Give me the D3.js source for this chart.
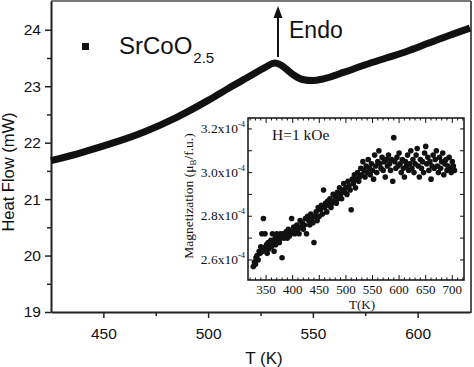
<!DOCTYPE html>
<html>
<head>
<meta charset="utf-8">
<script src="https://cdn.jsdelivr.net/npm/d3@7"></script>
<style>
body { margin: 0; background: #fff; }
svg { display: block; }
</style>
</head>
<body>
<div id="chart"></div>
<script>
// main DSC curve
const dscT = [425, 440, 455, 470, 485, 500, 510, 520, 527, 532, 535, 540, 545, 550, 555, 565, 575, 585, 595, 605, 615, 625];
const dscHeat = [21.68, 21.83, 22.0, 22.2, 22.45, 22.75, 22.97, 23.18, 23.33, 23.41, 23.37, 23.22, 23.12, 23.1, 23.13, 23.25, 23.38, 23.5, 23.62, 23.76, 23.9, 24.03];
const mainXTicks = [450, 500, 550, 600];
const mainYTicks = [19, 20, 21, 22, 23, 24];

// inset magnetization (units of 1e-4 muB/f.u.)
const magT = [326, 328, 330, 331, 333, 335, 337, 339, 340, 342, 343, 345, 346, 348, 349, 351, 352, 354, 355, 357,
  359, 360, 362, 363, 365, 367, 368, 370, 372, 373, 375, 377, 378, 380, 382, 384, 386, 388, 390, 392,
  394, 396, 398, 400, 402, 404, 406, 408, 410, 412, 414, 416, 418, 420, 422, 424, 426, 428, 430, 432,
  434, 436, 438, 440, 442, 444, 446, 448, 450, 452, 454, 456, 458, 460, 462, 464, 466, 468, 470, 472,
  474, 476, 478, 480, 482, 484, 486, 488, 490, 492, 494, 496, 498, 500, 502, 504, 506, 508, 510, 512,
  514, 516, 518, 520, 522, 524, 526, 528, 530, 532, 534, 536, 538, 540, 542, 544, 546, 548, 550, 552,
  554, 556, 558, 560, 562, 564, 566, 568, 570, 572, 574, 576, 578, 580, 582, 584, 586, 588, 590, 592,
  594, 596, 598, 600, 602, 604, 606, 608, 610, 612, 614, 616, 618, 620, 622, 624, 626, 628, 630, 632,
  634, 636, 638, 640, 642, 644, 646, 648, 650, 652, 654, 656, 658, 660, 662, 664, 666, 668, 670, 672,
  674, 676, 678, 680, 682, 684, 686, 688, 690, 692, 694, 696, 698, 700, 702, 704];
const magM = [2.57, 2.59, 2.58, 2.61, 2.62, 2.60, 2.64, 2.63, 2.66, 2.72, 2.64, 2.79, 2.65, 2.72, 2.66, 2.67, 2.63, 2.68, 2.65, 2.67,
  2.69, 2.66, 2.72, 2.68, 2.64, 2.70, 2.67, 2.72, 2.69, 2.71, 2.68, 2.72, 2.70, 2.61, 2.72, 2.70, 2.71, 2.73, 2.70, 2.74,
  2.71, 2.72, 2.79, 2.73, 2.75, 2.72, 2.74, 2.76, 2.74, 2.72, 2.78, 2.75, 2.77, 2.74, 2.76, 2.79, 2.72, 2.80, 2.78, 2.76,
  2.81, 2.79, 2.77, 2.68, 2.80, 2.82, 2.78, 2.84, 2.80, 2.83, 2.85, 2.81, 2.92, 2.84, 2.86, 2.82, 2.87, 2.85, 2.88, 2.84,
  2.86, 2.90, 2.87, 2.89, 2.86, 2.91, 2.88, 2.93, 2.90, 2.88, 2.92, 2.95, 2.91, 2.93, 2.90, 2.96, 2.94, 2.92, 2.83, 2.97,
  2.95, 2.99, 2.93, 2.97, 3.00, 2.96, 2.98, 3.02, 2.99, 3.05, 3.01, 2.98, 3.03, 3.00, 3.06, 3.02, 2.99, 3.04, 3.01, 2.97,
  3.08, 3.03, 3.00, 3.05, 3.10, 3.04, 3.02, 3.07, 3.01, 3.05, 2.98, 3.06, 3.03, 3.08, 3.04, 3.01, 3.06, 2.96, 3.16, 3.05,
  3.02, 3.07, 3.03, 3.09, 3.04, 3.00, 3.06, 3.02, 2.98, 3.05, 3.03, 3.08, 3.01, 3.04, 3.10, 3.02, 3.06, 3.00, 3.04, 3.08,
  3.11, 3.03, 2.98, 3.06, 3.02, 3.05, 3.00, 3.09, 3.12, 3.04, 3.07, 3.01, 3.05, 2.97, 3.03, 3.08, 3.02, 3.06, 3.10, 3.03,
  3.00, 3.07, 3.02, 3.05, 3.09, 2.99, 3.04, 3.06, 3.01, 3.03, 3.07, 3.02, 3.00, 3.05, 3.03, 3.01];
const insetXTicks = [350, 400, 450, 500, 550, 600, 650, 700];
const insetYTicks = [2.6, 2.8, 3.0, 3.2];

const W = 474, H = 367;
const svg = d3.select("#chart").append("svg").attr("width", W).attr("height", H);

const x = d3.scaleLinear().domain([425, 625]).range([51, 470]);
const y = d3.scaleLinear().domain([19, 24.51]).range([312, 1]);

// frame (top / right drawn lighter)
svg.append("line").attr("x1", 51).attr("x2", 471).attr("y1", 1).attr("y2", 1)
	.attr("stroke", "#777").attr("stroke-width", 2);
svg.append("line").attr("x1", 471).attr("x2", 471).attr("y1", 1).attr("y2", 313)
	.attr("stroke", "#555").attr("stroke-width", 2);

const mainFont = "'Liberation Sans', Arial, sans-serif";

const xAxis = svg.append("g").attr("transform", "translate(0,312)")
	.call(d3.axisBottom(x).tickValues(mainXTicks).tickSize(6).tickSizeOuter(0).tickPadding(5));
svg.append("g").attr("transform", "translate(0,312)")
	.call(d3.axisBottom(x).tickValues([475, 525, 575]).tickSize(4).tickFormat("").tickSizeOuter(0))
	.select(".domain").remove();
const yAxis = svg.append("g").attr("transform", "translate(51,0)")
	.call(d3.axisLeft(y).tickValues(mainYTicks).tickFormat(d3.format("d")).tickSize(6).tickSizeOuter(0).tickPadding(4));
svg.append("g").attr("transform", "translate(51,0)")
	.call(d3.axisLeft(y).tickValues([19.5, 20.5, 21.5, 22.5, 23.5]).tickSize(4).tickFormat("").tickSizeOuter(0))
	.select(".domain").remove();
svg.selectAll(".domain").attr("stroke", "#222").attr("stroke-width", 2);
svg.selectAll(".tick line").attr("stroke", "#222").attr("stroke-width", 1.5);
svg.selectAll(".tick text").attr("font-family", mainFont).attr("font-size", 15.5).attr("fill", "#111");
xAxis.selectAll(".tick text").attr("dy", "1em");

svg.append("text").attr("transform", "translate(14,172) rotate(-90)").attr("text-anchor", "middle")
	.attr("font-family", mainFont).attr("font-size", 16.5).attr("fill", "#111").text("Heat Flow (mW)");
svg.append("text").attr("x", 264).attr("y", 364).attr("text-anchor", "middle")
	.attr("font-family", mainFont).attr("font-size", 17).attr("fill", "#111").text("T (K)");

// DSC curve
const line = d3.line().x((d, i) => x(dscT[i])).y((d) => y(d)).curve(d3.curveMonotoneX);
svg.append("path").datum(dscHeat).attr("d", line).attr("fill", "none")
	.attr("stroke", "#111").attr("stroke-width", 7);

// legend
svg.append("rect").attr("x", 82).attr("y", 43).attr("width", 7).attr("height", 7).attr("fill", "#111");
const leg = svg.append("text").attr("x", 119).attr("y", 54).attr("font-family", mainFont)
	.attr("font-size", 24).attr("fill", "#111");
leg.append("tspan").text("SrCoO");
leg.append("tspan").attr("font-size", 15).attr("dy", 9).attr("dx", 1).text("2.5");

// Endo arrow
svg.append("line").attr("x1", 278).attr("x2", 278).attr("y1", 57).attr("y2", 16)
	.attr("stroke", "#111").attr("stroke-width", 2);
svg.append("path").attr("d", "M278,6 L273.5,18 L282.5,18 Z").attr("fill", "#111");
svg.append("text").attr("x", 289).attr("y", 38).attr("font-family", mainFont)
	.attr("font-size", 23).attr("fill", "#111").text("Endo");

// inset
const serif = "'Liberation Serif', 'Times New Roman', serif";
const ix = d3.scaleLinear().domain([316, 722]).range([248, 464]);
const iy = d3.scaleLinear().domain([2.508, 3.25]).range([280, 118]);
const inset = svg.append("g");
inset.append("rect").attr("x", 248).attr("y", 118).attr("width", 216).attr("height", 162)
	.attr("fill", "#fff").attr("stroke", "#111").attr("stroke-width", 1.5);

const minorX = d3.range(320, 721, 10);
inset.selectAll(".mxb").data(minorX).join("line")
	.attr("x1", (d) => ix(d)).attr("x2", (d) => ix(d))
	.attr("y1", 280).attr("y2", (d) => d % 50 === 0 ? 275 : 277.5)
	.attr("stroke", "#111").attr("stroke-width", 1);
inset.selectAll(".mxt").data(minorX).join("line")
	.attr("x1", (d) => ix(d)).attr("x2", (d) => ix(d))
	.attr("y1", 118).attr("y2", (d) => d % 50 === 0 ? 123 : 120.5)
	.attr("stroke", "#111").attr("stroke-width", 1);
const minorY = [2.6, 2.7, 2.8, 2.9, 3.0, 3.1, 3.2];
inset.selectAll(".myl").data(minorY).join("line")
	.attr("x1", 248).attr("x2", 252).attr("y1", (d) => iy(d)).attr("y2", (d) => iy(d))
	.attr("stroke", "#111").attr("stroke-width", 1);
inset.selectAll(".myr").data(minorY).join("line")
	.attr("x1", 464).attr("x2", 460).attr("y1", (d) => iy(d)).attr("y2", (d) => iy(d))
	.attr("stroke", "#111").attr("stroke-width", 1);

inset.selectAll(".xl").data(insetXTicks).join("text")
	.attr("x", (d) => ix(d)).attr("y", 294).attr("text-anchor", "middle")
	.attr("font-family", serif).attr("font-size", 13).attr("fill", "#111").text((d) => d);
const yl = inset.selectAll(".yl").data(insetYTicks).join("text")
	.attr("x", 245).attr("y", (d) => iy(d) + 4).attr("text-anchor", "end")
	.attr("font-family", serif).attr("font-size", 13.5).attr("fill", "#111");
yl.append("tspan").text((d) => d.toFixed(1) + "x10");
yl.append("tspan").attr("font-size", 8.5).attr("dy", -6).text("-4");

inset.append("text").attr("x", 362).attr("y", 308.5).attr("text-anchor", "middle")
	.attr("font-family", serif).attr("font-size", 13).attr("fill", "#111").text("T(K)");
const ylab = inset.append("text").attr("transform", "translate(193,196) rotate(-90)")
	.attr("text-anchor", "middle").attr("font-family", serif).attr("font-size", 13.5).attr("fill", "#111");
ylab.append("tspan").text("Magnetization (\u03bc");
ylab.append("tspan").attr("font-size", 9).attr("dy", 3).text("B");
ylab.append("tspan").attr("dy", -3).text("/f.u.)");

inset.append("text").attr("x", 272).attr("y", 140).attr("font-family", serif)
	.attr("font-size", 15.5).attr("fill", "#111").text("H=1 kOe");

inset.selectAll(".pt").data(magM).join("circle")
	.attr("cx", (d, i) => ix(magT[i])).attr("cy", (d) => iy(d)).attr("r", 2.8).attr("fill", "#111");
</script>
</body>
</html>
